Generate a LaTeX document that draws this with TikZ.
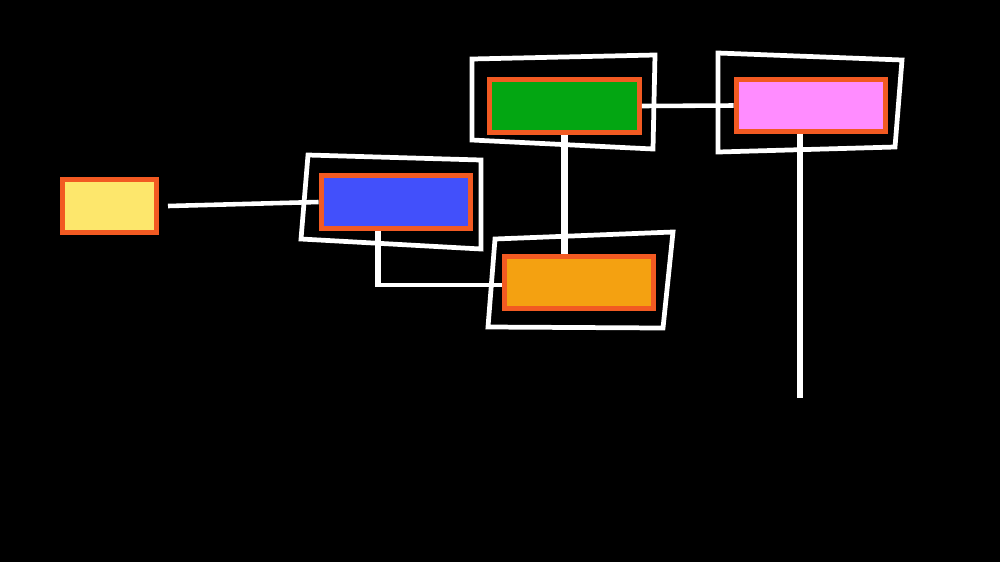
\documentclass[tikz,border=0pt]{standalone}
\usepackage{xcolor}
\usepackage{tikz}
\usetikzlibrary{positioning}

\definecolor{Rim}{HTML}{F25A22}
\definecolor{Lemon}{HTML}{FDE76C}
\definecolor{Azure}{HTML}{4250FB}
\definecolor{Leaf}{HTML}{03A612}
\definecolor{Pinky}{HTML}{FF8CFF}
\definecolor{Amber}{HTML}{F4A111}

\begin{document}
\begin{tikzpicture}[x=0.02cm,y=-0.02cm,
                      basebox/.style={draw=Rim,line width=3.1pt,inner sep=0pt,minimum height=1.05cm},
                      smallbox/.style={basebox,minimum width=1.89cm},
                      widebox/.style={basebox,minimum width=2.99cm},
                      frame/.style={draw=white,line width=2.7pt,line join=miter},
                      link/.style={draw=white,line width=2.6pt},
                      vlink/.style={draw=white,line width=3.6pt}]
    \fill[black] (0,0) rectangle (1000,562);
    \useasboundingbox (0,0) rectangle (1000,562);
    % boxes
    \node[smallbox,fill=Lemon] (yellow) at (109.5,206) {};
    \node[widebox,fill=Azure] (blue) at (396,202) {};
    \node[widebox,fill=Leaf] (green) at (564.5,106) {};
    \node[widebox,fill=Pinky] (pink) at (811,105.5) {};
    \node[widebox,fill=Amber] (orange) at (579,282.5) {};
    % frames
    \draw[frame] (308,155) -- (481,160) -- (481,249) -- (301,239) -- cycle;
    \draw[frame] (472,59) -- (655,55) -- (653,149) -- (472,140) -- cycle;
    \draw[frame] (718,53) -- (902,60) -- (895,147) -- (718,152) -- cycle;
    \draw[frame] (495,239) -- (673,232) -- (663,328) -- (488,327) -- cycle;
    % links
    \coordinate (n0) at (168,206);
    \coordinate (n1) at (378,285);
    \coordinate (n2) at (800,398);
    \draw[link] (n0) -- (blue.west);
    \draw[vlink] (n1 |- blue.south) -- ([yshift=-0.5pt]n1);
    \draw[link] ([xshift=-1.8pt]n1) -- (n1 -| orange.west);
    \draw[vlink] (green.south) -- (green.south |- orange.north);
    \draw[link] (green.east) -- (pink.west);
    \draw[vlink] (n2 |- pink.south) -- (n2);
\end{tikzpicture}
\end{document}
